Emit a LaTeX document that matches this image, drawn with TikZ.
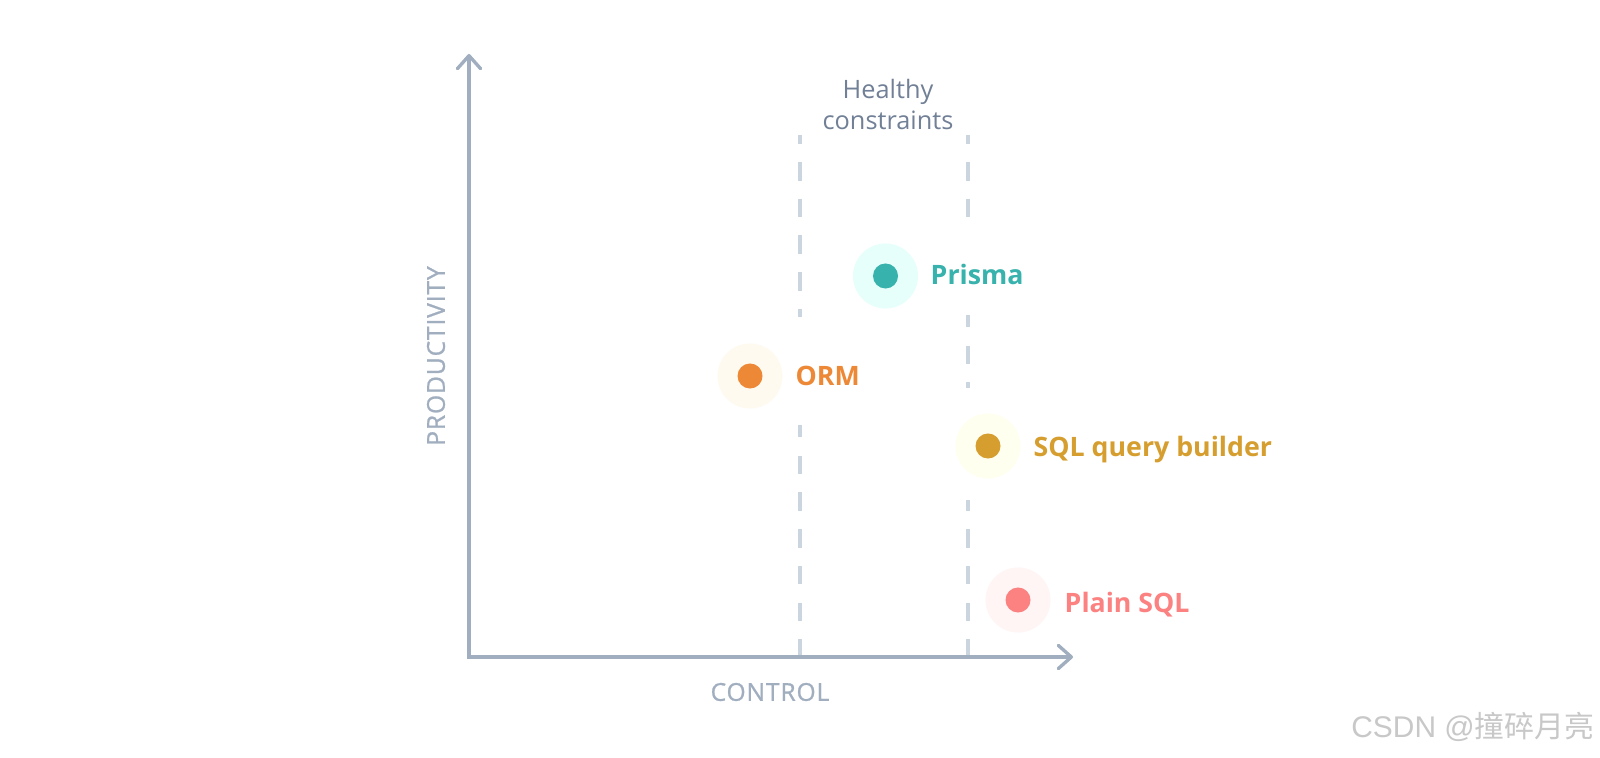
\documentclass[tikz,border=0pt]{standalone}
\usepackage{fontspec}
\setmainfont{Open Sans}
\newfontfamily\wmlatin{Liberation Sans}
\newfontfamily\wmcjk{Noto Sans CJK SC}
\usetikzlibrary{arrows.meta}
\definecolor{axisc}{HTML}{A0AEC0}
\definecolor{dashc}{HTML}{CBD5E0}
\definecolor{healthc}{HTML}{718096}
\definecolor{prismac}{HTML}{38B2AC}
\definecolor{prismah}{HTML}{E6FFFA}
\definecolor{ormc}{HTML}{ED8936}
\definecolor{ormh}{HTML}{FFFAF0}
\definecolor{sqlc}{HTML}{D69E2E}
\definecolor{sqlh}{HTML}{FFFFF0}
\definecolor{plainc}{HTML}{FC8181}
\definecolor{plainh}{HTML}{FFF5F5}
\definecolor{wmc}{HTML}{C8C8C8}
\tikzset{
  axisline/.style={draw=axisc, line width=0.95pt, line join=miter,
    {Straight Barb[length=3.7pt,width=6.6pt,round]}-{Straight Barb[length=3.7pt,width=6.6pt,round]}},
  guide/.style={draw=dashc, line width=1.15pt, dash pattern=on 5.26pt off 5.18pt, dash phase=2.76pt},
  axlbl/.style={text=axisc, inner sep=0, font=\fontsize{7}{8}\selectfont\addfontfeatures{LetterSpace=3.5,FakeBold=0.8}},
  halo/.style={circle, inner sep=0, minimum size=0.65cm},
  dot/.style={circle, inner sep=0, minimum size=0.25cm},
  lbl/.style={anchor=base west, inner sep=0, font=\fontsize{7.6}{9}\selectfont\bfseries},
}
\begin{document}
\begin{tikzpicture}[x=0.01cm, y=-0.01cm]
\useasboundingbox[fill=white] (0,0) rectangle (1600,758);
% dashed guides
\coordinate (L1) at (800,135);
\coordinate (L2) at (800,657);
\coordinate (R1) at (968,135);
\coordinate (R2) at (968,657);
\draw[guide] (L1) -- (L2);
\draw[guide] (R1) -- (R2);
% white backgrounds of the items
\fill[white] (853,235) rectangle (1040,315);
\fill[white] (715,317) rectangle (850,425);
\fill[white] (955,388) rectangle (1280,500);
% axes
\coordinate (O) at (469,657);
\coordinate (Ytop) at (469,54);
\coordinate (Xend) at (1073,657);
\draw[axisline] (Ytop) -- (O) -- (Xend);
\node[axlbl, rotate=90] (ylab) at (436,356) {PRODUCTIVITY};
\node[axlbl] (xlab) at (770,692) {CONTROL};
% healthy constraints
\node[anchor=base, inner sep=0, align=center, text=healthc,
  font=\fontsize{7.2}{8.82}\selectfont] (health) at (888,130) {Healthy\\constraints};
% Prisma
\node[halo, fill=prismah] (ph) at (885.5,276) {};
\node[dot, fill=prismac] (pd) at (885.5,276) {};
\node[lbl, text=prismac] (pl) at (930,285) {Prisma};
% ORM
\node[halo, fill=ormh] (oh) at (750,376) {};
\node[dot, fill=ormc] (od) at (750,376) {};
\node[lbl, text=ormc] (ol) at (795,386) {ORM};
% SQL query builder
\node[halo, fill=sqlh] (sh) at (988,446) {};
\node[dot, fill=sqlc] (sd) at (988,446) {};
\node[lbl, text=sqlc] (sl) at (1033,456) {SQL query builder};
% Plain SQL
\node[halo, fill=plainh] (qh) at (1018,600) {};
\node[dot, fill=plainc] (qd) at (1018,600) {};
\node[lbl, text=plainc] (ql) at (1064,612) {Plain SQL};
% watermark
\node[anchor=base east, inner sep=0, text=wmc, font=\fontsize{8.5}{10}\selectfont] (wm) at (1595,737) {\wmlatin CSDN @\wmcjk 撞碎月亮};
\end{tikzpicture}
\end{document}
